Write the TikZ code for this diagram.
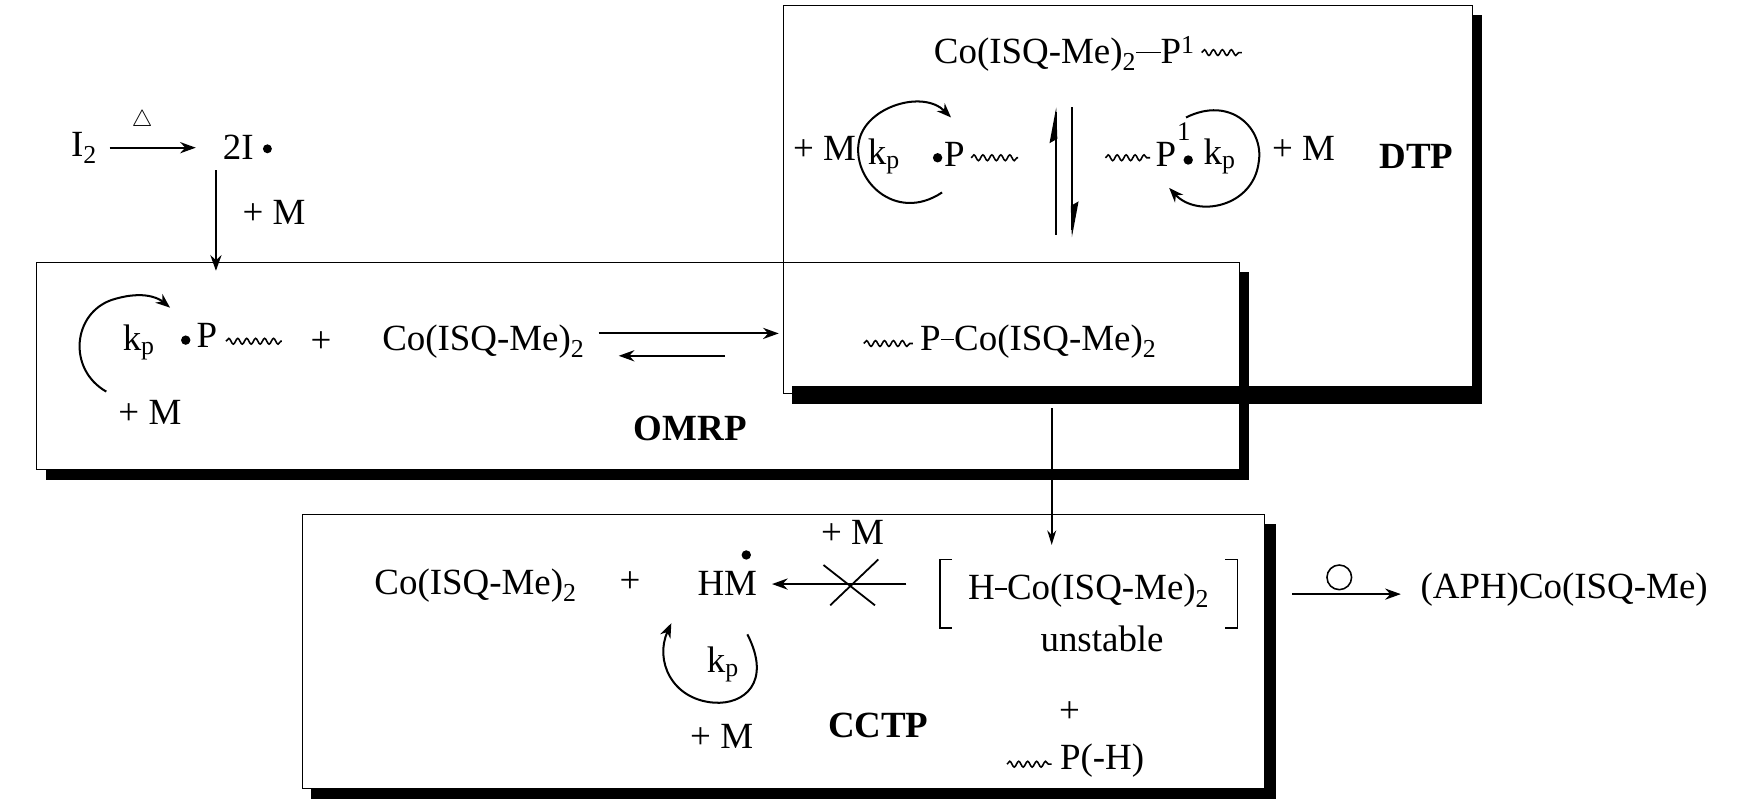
\documentclass[tikz,border=0pt]{standalone}
\usepackage{fontspec}
\setmainfont{Liberation Serif}
\usetikzlibrary{arrows.meta,decorations.pathmorphing}
\newcommand{\sbt}[1]{\textsubscript{#1}}
\newcommand{\spt}[1]{\textsuperscript{#1}}
\begin{document}
\begin{tikzpicture}[x=1pt,y=-1pt,
  every node/.style={font=\fontsize{33}{38}\selectfont,inner sep=0pt},
  bx/.style={draw,line width=1pt},
  sh/.style={fill=black},
  arr/.style={line width=1.8pt,-{Stealth[length=14pt,width=10pt]}},
  crv/.style={line width=1.8pt,-{Stealth[length=13pt,width=10pt]}},
  wav/.style={line width=1.4pt,decorate,decoration={snake,amplitude=2.6pt,segment length=8pt}},
  lbl/.style={font=\fontsize{33}{38}\selectfont\bfseries}]
\useasboundingbox (0,0) rectangle (1565,716);
% shadows and boxes
\fill[sh] (708,345) rectangle (1325,361);
\fill[sh] (1316,13) rectangle (1325,361);
\fill[sh] (41,420) rectangle (1116,429);
\fill[sh] (1108,243) rectangle (1116,429);
\fill[sh] (278,705) rectangle (1140,714);
\fill[sh] (1130,468) rectangle (1140,714);
\draw[bx] (700,5) rectangle (1316,352);
\draw[bx] (33,235) rectangle (1108,420);
\draw[bx] (270,460) rectangle (1130,705);
% initiation
\node (I2) at (75,132) {I\sbt{2}};
\node (tri) at (127,108) {\fontsize{22}{24}\selectfont$\triangle$};
\node (twoI) at (213,132) {2I};
\fill (239,133) circle (4);
\coordinate (a1) at (98,132); \coordinate (a2) at (175,132);
\draw[arr] (a1) -- (a2);
\coordinate (d1) at (193,152); \coordinate (d2) at (193,242);
\draw[arr] (d1) -- (d2);
\node (pm1) at (245,190) {+ M};
% DTP
\node[anchor=east] (top) at (1068,48) {Co(ISQ-Me)\sbt{2}\rule[9pt]{22pt}{1.3pt}P\spt{1}};
\draw[wav] (1074,47) -- (1110,47);
\node (pm2) at (737,133) {+ M};
\node (kp1) at (790,140) {k\sbt{p}};
\fill (838,141) circle (4.2);
\node (P1) at (853,138) {P};
\draw[wav] (868,141) -- (910,141);
\draw[crv] (842,172) .. controls (800,200) and (760,160) .. (768,125) .. controls (775,95) and (825,80) .. (850,105);
\draw[line width=1.8pt] (944,210) -- (944,100);
\fill (944,96) -- (938,128) -- (945,124) -- cycle;
\draw[line width=1.8pt] (958,96) -- (958,206);
\fill (958,212) -- (964,180) -- (957,184) -- cycle;
\draw[wav] (988,141) -- (1028,141);
\node (P2) at (1042,138) {P};
\node (one) at (1058,118) {\fontsize{24}{26}\selectfont 1};
\fill (1062,143) circle (4.2);
\node (kp2) at (1090,140) {k\sbt{p}};
\draw[crv] (1060,105) .. controls (1100,85) and (1130,115) .. (1125,145) .. controls (1120,185) and (1070,195) .. (1045,168);
\node (pm3) at (1165,133) {+ M};
\node[lbl] (DTP) at (1266,140) {DTP};
% OMRP
\node (kp3) at (124,306) {k\sbt{p}};
\draw[crv] (95,350) .. controls (60,330) and (65,280) .. (100,268) .. controls (125,260) and (140,265) .. (152,275);
\fill (166,304) circle (4.2);
\node (P3) at (185,300) {P};
\draw[wav] (202,305) -- (252,305);
\node (plus1) at (287,306) {+};
\node (Co1) at (432,305) {Co(ISQ-Me)\sbt{2}};
\coordinate (e1) at (535,298); \coordinate (e2) at (696,298);
\draw[arr] (e1) -- (e2);
\coordinate (f1) at (648,318); \coordinate (f2) at (553,318);
\draw[arr] (f1) -- (f2);
\node (PCo) at (928,305) {P\rule[9pt]{12pt}{1.3pt}Co(ISQ-Me)\sbt{2}};
\draw[wav] (772,307) -- (816,307);
\node (pm4) at (134,369) {+ M};
\node[lbl] (OMRP) at (617,383) {OMRP};
\coordinate (g1) at (940,365); \coordinate (g2) at (940,487);
\draw[line width=1.4pt,-{Stealth[length=13pt,width=8pt]}] (g1) -- (g2);
% CCTP
\node (Co2) at (425,523) {Co(ISQ-Me)\sbt{2}};
\node (plus2) at (563,520) {+};
\node (HM) at (650,521) {HM};
\fill (667,496) circle (4.2);
\coordinate (h1) at (810,522); \coordinate (h2) at (690,522);
\draw[arr] (h1) -- (h2);
\draw[line width=1.6pt] (736,505) -- (782,541);
\draw[line width=1.6pt] (742,541) -- (785,500);
\node (pm5) at (762,476) {+ M};
\draw[line width=1.6pt] (851,500) -- (840,500) -- (840,561) -- (851,561);
\draw[line width=1.6pt] (1095,500) -- (1106,500) -- (1106,561) -- (1095,561);
\node (HCo) at (973,528) {H\rule[9pt]{11pt}{1.3pt}Co(ISQ-Me)\sbt{2}};
\node (unst) at (985,571) {unstable};
\coordinate (k1) at (1155,531); \coordinate (k2) at (1252,531);
\draw[arr] (k1) -- (k2);
\draw[line width=1.4pt] (1197,516) circle (11);
\node (APH) at (1398,527) {(APH)Co(ISQ-Me)};
\draw[crv] (668,567) .. controls (690,610) and (665,630) .. (638,628) .. controls (600,625) and (585,590) .. (600,557);
\node (kp4) at (646,594) {k\sbt{p}};
\node (pm6) at (645,658) {+ M};
\node[lbl] (CCTP) at (785,648) {CCTP};
\node (plus3) at (956,636) {+};
\draw[wav] (900,683) -- (940,683);
\node (PH) at (985,680) {P(-H)};
\end{tikzpicture}
\end{document}
